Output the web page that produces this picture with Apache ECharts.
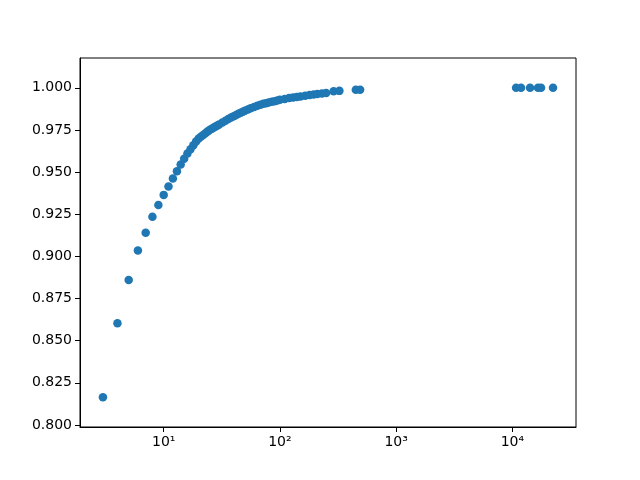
<!DOCTYPE html>
<html>
<head>
<meta charset="utf-8">
<script src="https://cdn.jsdelivr.net/npm/echarts@6/dist/echarts.min.js"></script>
<style>html,body{margin:0;padding:0;background:#fff;}#c{width:640px;height:480px;}</style>
</head>
<body>
<div id="c"></div>
<script>
// x values (log scale) and y values
const xValues = [3,4,5,6,7,8,9,10,11,12,13,14,15,16,17,18,19,20,21,22,23,24,25,26,27,28,29,30,32,34,36,38,40,42,44,46,48,50,53,56,60,64,68,72,76,80,85,90,95,100,110,120,130,140,150,165,180,195,210,230,250,290,325,450,490,10770,11880,14200,16630,17650,22390];
const yValues = [0.8164,0.8604,0.8860,0.9035,0.9140,0.9235,0.9305,0.9365,0.9414,0.9462,0.9505,0.9545,0.9580,0.9610,0.9636,0.9660,0.9681,0.9699,0.9712,0.9722,0.9732,0.9742,0.9751,0.9758,0.9765,0.9771,0.9777,0.9783,0.9794,0.9805,0.9815,0.9824,0.9832,0.9839,0.9846,0.9852,0.9858,0.9864,0.9872,0.9879,0.9887,0.9894,0.9900,0.9905,0.9909,0.9913,0.9917,0.9921,0.9925,0.9929,0.9934,0.9939,0.9943,0.9946,0.9949,0.9953,0.9957,0.9960,0.9963,0.9966,0.9969,0.9980,0.9982,0.9988,0.9989,1.0,1.0,1.0,1.0,1.0,1.0];
const xTicks = [10, 100, 1000, 10000];
const yTicks = [0.800,0.825,0.850,0.875,0.900,0.925,0.950,0.975,1.000];

const sup = {'0':'\u2070','1':'\u00b9','2':'\u00b2','3':'\u00b3','4':'\u2074','5':'\u2075','6':'\u2076','7':'\u2077','8':'\u2078','9':'\u2079'};
const chart = echarts.init(document.getElementById('c'), null, {renderer:'canvas'});
const font = {fontFamily:'DejaVu Sans', fontSize:14, color:'#000'};
chart.setOption({
  animation:false,
  backgroundColor:'#fff',
  grid:{left:80, right:64, top:58, bottom:53, show:true, borderColor:'#000', borderWidth:1, backgroundColor:'transparent'},
  xAxis:{
    type:'log', logBase:10, min:1.905, max:35300,
    axisLine:{show:true, lineStyle:{color:'#000', width:1}},
    axisTick:{show:true, length:5, inside:false, lineStyle:{color:'#000'}, customValues:xTicks},
    axisLabel:Object.assign({margin:8, customValues:xTicks, formatter:function(v){
      const e = Math.round(Math.log10(v));
      return '10' + String(e).split('').map(c=>sup[c]).join('');
    }}, font),
    splitLine:{show:false}, minorTick:{show:false}
  },
  yAxis:{
    type:'value', min:0.7988, max:1.0177,
    axisLine:{show:true, lineStyle:{color:'#000', width:1}},
    axisTick:{show:true, length:5, inside:false, lineStyle:{color:'#000'}, customValues:yTicks},
    axisLabel:Object.assign({margin:8, customValues:yTicks, formatter:function(v){return v.toFixed(3);}}, font),
    splitLine:{show:false}
  },
  series:[{
    type:'scatter',
    symbol:'circle',
    symbolSize:8.5,
    itemStyle:{color:'#1f77b4', opacity:1},
    data:xValues.map((x,i)=>[x, yValues[i]])
  }]
});
</script>
</body>
</html>
